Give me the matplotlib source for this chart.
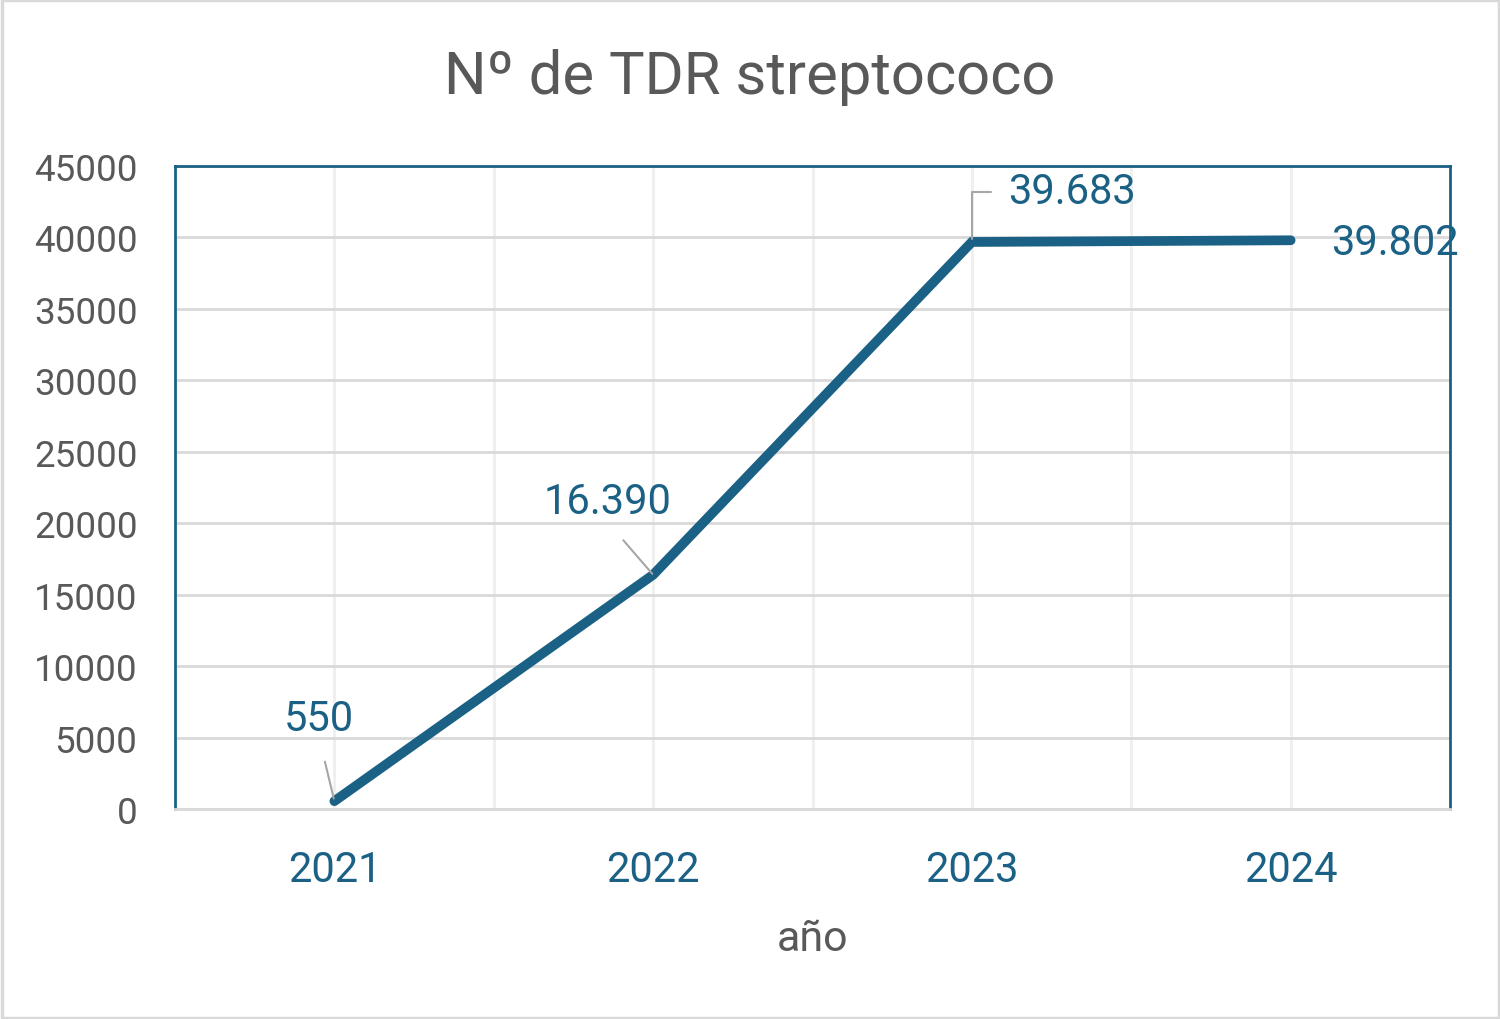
import matplotlib
matplotlib.use("Agg")
import matplotlib.pyplot as plt
from matplotlib.patches import Rectangle
from matplotlib.ticker import MultipleLocator

years = ["2021", "2022", "2023", "2024"]
values = [550, 16390, 39683, 39802]
labels = ["550", "16.390", "39.683", "39.802"]
yticks = [0, 5000, 10000, 15000, 20000, 25000, 30000, 35000, 40000, 45000]

TEAL = "#1b6185"
GREY = "#595959"
plt.rcParams["font.family"] = ["Roboto", "DejaVu Sans"]

fig = plt.figure(figsize=(15, 10.2), dpi=100)
ax = fig.add_axes([175/1500, 1-810/1020, 1275/1500, 643/1020])

x = list(range(len(years)))
ax.plot(x, values, color=TEAL, lw=7, solid_capstyle="round", solid_joinstyle="miter", zorder=3)

ax.set_xlim(-0.5, 3.5)
ax.set_ylim(0, 45000)
ax.set_yticks(yticks)
ax.set_yticklabels([str(v) for v in yticks])
ax.set_xticks(x)
ax.set_xticklabels(years)
ax.xaxis.set_minor_locator(MultipleLocator(0.5))
ax.tick_params(axis="y", length=0, labelsize=26.5, labelcolor=GREY, pad=27)
ax.tick_params(axis="x", which="both", length=0, labelsize=30, labelcolor=TEAL, pad=29)
ax.grid(axis="y", color="#d9d9d9", lw=2)
ax.grid(axis="x", which="both", color="#efefef", lw=2)
ax.set_axisbelow(True)
for s in ["left", "top", "right"]:
    ax.spines[s].set_color(TEAL)
    ax.spines[s].set_linewidth(2)
ax.spines["bottom"].set_color("#d9d9d9")
ax.spines["bottom"].set_linewidth(2)

ax.set_xlabel("año", fontsize=31, color=GREY, labelpad=20)
fig.suptitle("Nº de TDR streptococo", fontsize=43, color=GREY, y=1-78/1020, va="center")

lc = "#a6a6a6"
fs = 30
# 550
ax.annotate(labels[0], (0, values[0]), xytext=(-10.8, 59.8), textcoords="offset points",
            ha="center", va="center", fontsize=fs, color=TEAL,
            arrowprops=dict(arrowstyle="-", color=lc, lw=1.5, shrinkA=15, shrinkB=2, relpos=(0.5, 0)))
# 16.390
ax.annotate(labels[1], (1, values[1]), xytext=(-33, 53), textcoords="offset points",
            ha="center", va="center", fontsize=fs, color=TEAL,
            arrowprops=dict(arrowstyle="-", color=lc, lw=1.5, shrinkA=15, shrinkB=1, relpos=(0.5, 0)))
# 39.683
ax.annotate(labels[2], (2, values[2]), xytext=(72, 36), textcoords="offset points",
            ha="center", va="center", fontsize=fs, color=TEAL,
            arrowprops=dict(arrowstyle="-", color=lc, lw=1.5, shrinkA=10, shrinkB=2, relpos=(0, 0.5),
                            connectionstyle="angle,angleA=0,angleB=90,rad=0"))
# 39.802
ax.annotate(labels[3], (3, values[3]), xytext=(75, -1.5), textcoords="offset points",
            ha="center", va="center", fontsize=fs, color=TEAL, annotation_clip=False)

fig.patches.append(Rectangle((0.001, 0.001), 0.998, 0.998, transform=fig.transFigure,
                             fill=False, edgecolor="#d9d9d9", lw=2.5))

fig.savefig("out.png", dpi=100, facecolor="white")
